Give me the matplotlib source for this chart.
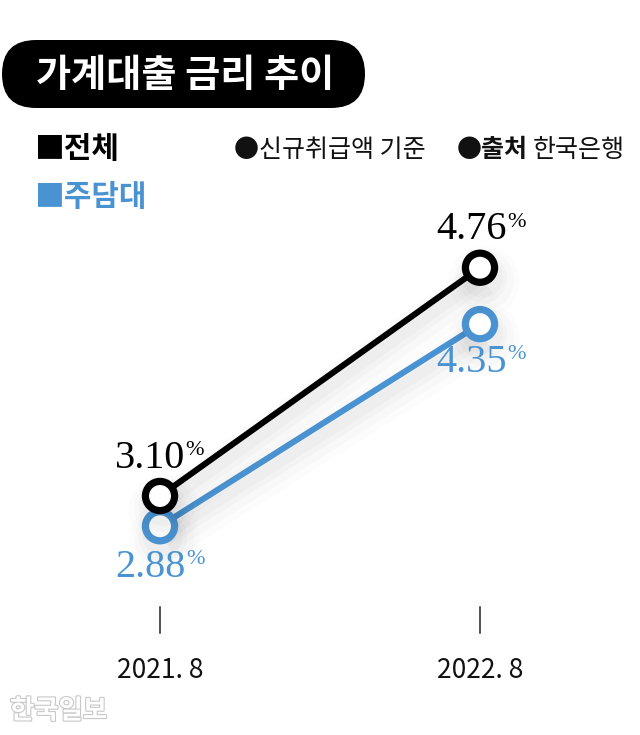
import matplotlib
matplotlib.use("Agg")
import matplotlib.pyplot as plt
from matplotlib.patches import FancyBboxPatch
from matplotlib.transforms import IdentityTransform, blended_transform_factory
import matplotlib.patheffects as pe

plt.rcParams['font.family'] = ['Noto Sans CJK KR', 'DejaVu Sans']

# ---- data ----
periods = ["2021. 8", "2022. 8"]
total_rates = [3.10, 4.76]      # 전체
mortgage_rates = [2.88, 4.35]   # 주담대
title = "가계대출 금리 추이"
series_names = ["전체", "주담대"]
note = "●신규취급액 기준"
source_label = "●출처"
source_name = "한국은행"
watermark = "한국일보"

BLACK = "#000000"
BLUE = "#4a93d2"

W, H = 640, 735
fig = plt.figure(figsize=(W / 100, H / 100), dpi=100)
ax = fig.add_axes([0, 0, 1, 1])
ax.set_xlim(-0.5, 1.5)
ax.set_ylim(1.362, 6.707)
ax.axis("off")

def fy(py):
    return 1 - py / H

def fx(px):
    return px / W

# title pill
pill = FancyBboxPatch((2, H - 108), 363, 68,
                      boxstyle="round,pad=0,rounding_size=34",
                      transform=IdentityTransform(), facecolor="black",
                      edgecolor="none")
fig.add_artist(pill)
fig.text(fx(185), fy(75), title, color="white", fontsize=27.5, fontweight="bold",
         ha="center", va="center")

# legend
fig.text(fx(34), fy(149), "■" + series_names[0], color=BLACK, fontsize=21.5,
         fontweight="bold", ha="left", va="center")
fig.text(fx(34), fy(197), "■" + series_names[1], color=BLUE, fontsize=21.5,
         fontweight="bold", ha="left", va="center")
fig.text(fx(234), fy(150), note, color="#111111", fontsize=18, ha="left", va="center")
t1 = fig.text(fx(457), fy(150), source_label, color="#111111", fontsize=18,
              fontweight="bold", ha="left", va="center")
fig.canvas.draw()
bb = t1.get_window_extent()
fig.text(fx(bb.x1 + 5), fy(150), source_name, color="#111111", fontsize=18,
         ha="left", va="center")

xs = list(range(len(periods)))

def shadow_effects():
    return [
        pe.SimpleLineShadow(offset=(3, -10), shadow_color="black", alpha=0.012, linewidth=30),
        pe.SimpleLineShadow(offset=(3, -9), shadow_color="black", alpha=0.015, linewidth=22),
        pe.SimpleLineShadow(offset=(2, -8), shadow_color="black", alpha=0.018, linewidth=14),
        pe.SimpleLineShadow(offset=(2, -7), shadow_color="black", alpha=0.02, linewidth=8),
        pe.Normal(),
    ]

for vals, col in [(mortgage_rates, BLUE), (total_rates, BLACK)]:
    ax.plot(xs, vals, color=col, linewidth=4.4, solid_capstyle="butt",
            marker="o", markersize=21, markerfacecolor="white",
            markeredgecolor=col, markeredgewidth=5.2,
            path_effects=shadow_effects(), zorder=3)

serif = "Liberation Serif"

def value_label(x, v, col, dx, dy):
    ax.annotate(f"{v:.2f}", xy=(x, v), xytext=(dx, dy), textcoords="offset pixels",
                ha="right", va="center", color=col, fontsize=29, family=serif, zorder=5)
    ax.annotate("%", xy=(x, v), xytext=(dx, dy + 17), textcoords="offset pixels",
                ha="left", va="top", color=col, fontsize=16, family=serif, zorder=5)

value_label(xs[0], total_rates[0], BLACK, 25, 38)
value_label(xs[1], total_rates[1], BLACK, 27, 38)
value_label(xs[0], mortgage_rates[0], BLUE, 26, -41)
value_label(xs[1], mortgage_rates[1], BLUE, 27, -38)

# ticks and period labels
btr = blended_transform_factory(ax.transData, ax.transAxes)
for x, lab in zip(xs, periods):
    ax.plot([x, x], [fy(607), fy(633)], color="#222222", linewidth=1.1, transform=btr)
    ax.text(x, fy(670), lab, transform=btr, ha="center", va="center",
            fontsize=19, color="#111111")

# watermark
fig.text(fx(10), fy(711), watermark, color="white", fontsize=19, fontweight="bold",
         ha="left", va="center",
         path_effects=[pe.withStroke(linewidth=1.6, foreground="#c8c8c8")])

fig.savefig("out.png", dpi=100)
